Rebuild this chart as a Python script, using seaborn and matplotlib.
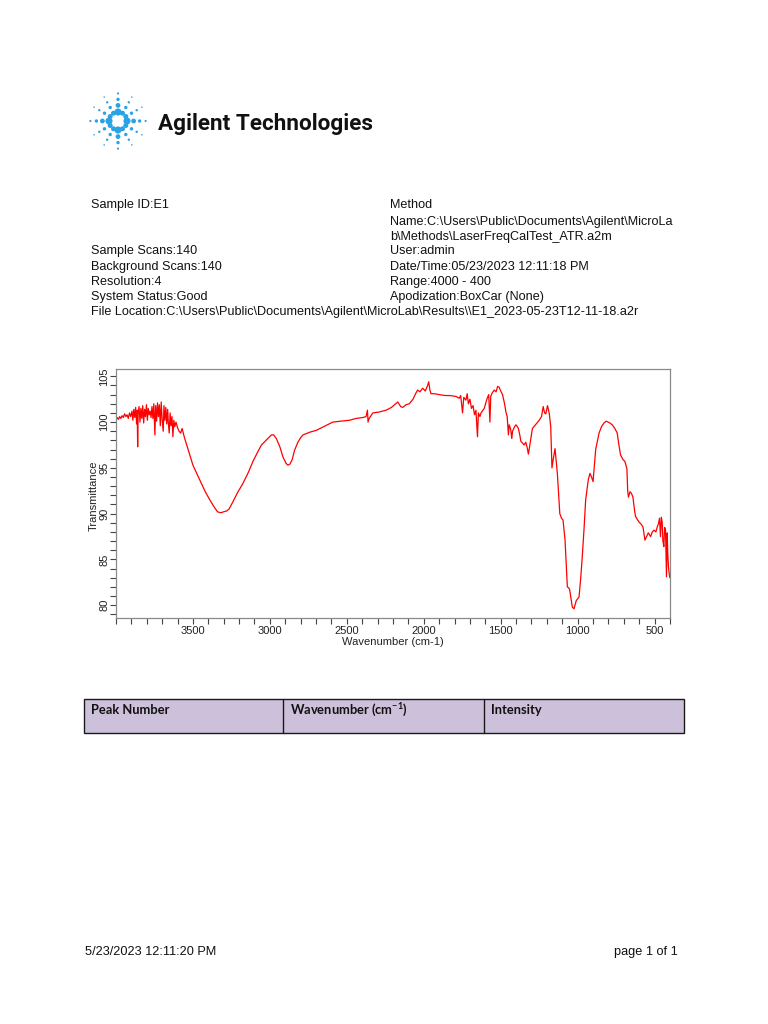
import numpy as np
import pandas as pd
import matplotlib
matplotlib.use("Agg")
import matplotlib.pyplot as plt
from matplotlib.ticker import MultipleLocator
from matplotlib.patches import Rectangle
import seaborn as sns

# ---------------- data ----------------
wavenumber = [
    4000, 3992, 3984, 3976, 3968, 3960, 3952, 3944, 3936, 3928, 3920, 3912, 3904, 3896, 3890, 3884,
    3878, 3872, 3866, 3862, 3859, 3856, 3850, 3844, 3838, 3832, 3826, 3820, 3814, 3808, 3802, 3796,
    3790, 3784, 3778, 3772, 3766, 3760, 3754, 3747, 3742, 3736, 3730, 3724, 3718, 3712, 3706, 3700,
    3693, 3688, 3682, 3676, 3670, 3664, 3660, 3654, 3648, 3642, 3636, 3630, 3624, 3618, 3610, 3600,
    3590, 3580, 3570, 3555, 3540, 3520, 3500, 3470, 3445, 3420, 3390, 3365, 3340, 3320, 3300, 3280,
    3265, 3240, 3210, 3175, 3140, 3110, 3080, 3055, 3020, 2990, 2975, 2958, 2935, 2915, 2895, 2883,
    2870, 2855, 2840, 2818, 2800, 2785, 2740, 2698, 2650, 2591, 2540, 2482, 2440, 2396, 2375, 2366,
    2362, 2355, 2331, 2290, 2245, 2210, 2190, 2169, 2150, 2137, 2115, 2094, 2070, 2050, 2040, 2025,
    2007, 1990, 1975, 1968, 1960, 1953, 1930, 1899, 1860, 1830, 1790, 1770, 1760, 1748, 1740, 1726,
    1718, 1710, 1700, 1690, 1680, 1670, 1661, 1651, 1645, 1635, 1628, 1615, 1607, 1590, 1578, 1570,
    1565, 1555, 1542, 1530, 1520, 1510, 1500, 1488, 1475, 1466, 1458, 1450, 1445, 1435, 1428, 1423,
    1410, 1401, 1392, 1385, 1375, 1369, 1358, 1348, 1337, 1328, 1320, 1310, 1294, 1270, 1250, 1235,
    1224, 1215, 1207, 1196, 1185, 1175, 1167, 1160, 1147, 1132, 1116, 1105, 1095, 1082, 1067, 1058,
    1052, 1035, 1024, 1009, 991, 980, 970, 958, 948, 931, 920, 910, 900, 890, 883, 861,
    845, 829, 815, 803, 790, 775, 758, 743, 732, 721, 705, 693, 680, 675, 670, 660,
    650, 641, 630, 624, 610, 602, 585, 575, 563, 552, 541, 530, 526, 515, 504, 492,
    482, 475, 468, 462, 456, 451, 446, 440, 435, 429, 423, 418, 414, 410, 405, 401,
]
transmittance = [
    100.2, 100.5, 100.3, 100.6, 100.4, 100.7, 100.5, 100.9, 100.6, 100.8, 100.4, 101.0, 100.6, 101.2, 100.2, 101.4,
    100.5, 101.6, 99.8, 101.3, 97.3, 101.0, 101.7, 100.0, 101.5, 100.4, 101.8, 99.9, 101.4, 100.6, 101.9, 100.2,
    101.5, 100.8, 101.2, 100.5, 101.7, 100.4, 102.0, 98.6, 101.8, 100.1, 102.1, 100.6, 101.9, 99.6, 102.2, 100.3,
    99.0, 101.8, 100.2, 101.6, 99.8, 101.4, 100.0, 98.8, 101.0, 99.6, 100.6, 98.4, 100.2, 99.5, 100.0, 99.4,
    99.0, 98.8, 99.3, 98.3, 97.5, 96.4, 95.3, 94.2, 93.3, 92.4, 91.5, 90.8, 90.2, 90.1, 90.2, 90.3,
    90.5, 91.3, 92.3, 93.3, 94.5, 95.7, 96.7, 97.5, 98.1, 98.6, 98.6, 98.2, 97.3, 96.2, 95.5, 95.3,
    95.4, 95.9, 96.9, 97.8, 98.3, 98.6, 98.9, 99.1, 99.5, 100.0, 100.1, 100.2, 100.4, 100.5, 100.6, 101.3,
    100.0, 100.4, 101.0, 101.1, 101.3, 101.6, 101.9, 102.2, 101.7, 101.6, 101.9, 102.0, 102.5, 103.2, 103.5, 103.3,
    103.7, 103.4, 104.0, 104.4, 103.5, 103.1, 103.1, 103.0, 102.9, 102.9, 102.8, 102.6, 102.9, 101.0, 102.7, 102.4,
    103.1, 102.0, 102.5, 101.5, 101.8, 100.8, 101.3, 98.4, 101.0, 100.6, 101.0, 101.3, 101.5, 102.5, 103.0, 100.0,
    102.8, 103.2, 103.5, 103.3, 103.9, 103.8, 103.4, 103.0, 102.0, 101.1, 100.6, 98.6, 99.7, 99.2, 98.2, 99.0,
    99.5, 99.7, 99.5, 99.3, 98.5, 97.9, 97.7, 97.5, 97.8, 97.2, 96.5, 97.6, 99.3, 99.8, 100.2, 100.6,
    101.7, 101.0, 100.9, 101.8, 101.0, 99.5, 95.0, 95.8, 97.1, 94.4, 90.0, 89.5, 89.3, 87.1, 82.0, 81.9,
    81.7, 79.8, 79.6, 80.5, 80.9, 83.0, 85.3, 88.5, 91.5, 93.7, 94.4, 94.0, 93.5, 95.5, 97.0, 98.8,
    99.5, 99.9, 100.1, 100.0, 99.9, 99.7, 99.3, 98.8, 97.5, 96.4, 95.9, 95.7, 94.9, 92.5, 91.8, 92.4,
    92.2, 91.8, 90.3, 89.7, 89.3, 89.1, 88.8, 88.5, 87.1, 87.5, 87.9, 87.6, 87.5, 88.0, 88.2, 88.0,
    88.6, 88.9, 89.5, 87.5, 89.6, 89.1, 87.0, 86.4, 88.5, 88.2, 83.1, 87.9, 85.5, 84.2, 83.4, 83.0,
]

x_ticks = [3500, 3000, 2500, 2000, 1500, 1000, 500]
y_ticks = [80, 85, 90, 95, 100, 105]

header_left = ["Sample ID:E1", "Sample Scans:140", "Background Scans:140",
               "Resolution:4", "System Status:Good"]
header_right = ["Method", "Name:C:\\Users\\Public\\Documents\\Agilent\\MicroLa",
                "b\\Methods\\LaserFreqCalTest_ATR.a2m", "User:admin",
                "Date/Time:05/23/2023 12:11:18 PM", "Range:4000 - 400",
                "Apodization:BoxCar (None)"]
file_location = "File Location:C:\\Users\\Public\\Documents\\Agilent\\MicroLab\\Results\\\\E1_2023-05-23T12-11-18.a2r"
table_headers = ["Peak Number", r"Wavenumber (cm$^{\mathregular{-1}}$)", "Intensity"]
footer_left = "5/23/2023 12:11:20 PM"
footer_right = "page 1 of 1"

# ---------------- styling ----------------
sns.set_style("white")
plt.rcParams["font.family"] = ["Liberation Sans", "DejaVu Sans"]
plt.rcParams["mathtext.fontset"] = "custom"
plt.rcParams["mathtext.rm"] = "Lato"

W, H = 768, 1024
fig = plt.figure(figsize=(W / 100, H / 100), dpi=100)
fig.patch.set_facecolor("white")


def fx(x):
    return x / W


def fy(y):
    return 1 - y / H


# ---------------- logo ----------------
lax = fig.add_axes([fx(88), fy(151), fx(60), 60 / H])
lax.set_xlim(-1, 1)
lax.set_ylim(-1, 1)
lax.set_aspect("equal")
lax.axis("off")
radii = [0.30, 0.52, 0.72, 0.92]
sizes = [26, 12, 6, 2.5]
for k in range(12):
    a = np.deg2rad(90 + 30 * k)
    for r, s in zip(radii, sizes):
        ss = s if k % 3 == 0 else s * 0.5
        lax.scatter([r * np.cos(a)], [r * np.sin(a)], s=ss, color="#2aa3e6",
                    edgecolor="none")
fig.text(fx(158), fy(124), "Agilent Technologies", fontsize=16.2, fontweight="bold",
         family=["Roboto", "Liberation Sans"], va="center", ha="left",
         color="#111111")

# ---------------- header text ----------------
hfs = 9.1
left_y = [205, 251, 267, 282, 297]
right_y = [205, 222, 237, 251, 267, 282, 297]
for t, y in zip(header_left, left_y):
    fig.text(fx(91), fy(y), t, fontsize=hfs, va="center", ha="left", color="#111111")
for t, y in zip(header_right, right_y):
    fig.text(fx(390), fy(y), t, fontsize=hfs, va="center", ha="left", color="#111111")
fig.text(fx(91), fy(312), file_location, fontsize=hfs, va="center", ha="left", color="#111111")

# ---------------- spectrum ----------------
ax = fig.add_axes([fx(115.5), fy(618), fx(670) - fx(115.5), (618 - 369) / H])
df = pd.DataFrame({"Wavenumber": wavenumber, "Transmittance": transmittance})
sns.lineplot(data=df, x="Wavenumber", y="Transmittance", ax=ax, color="#ff0000",
             linewidth=0.9, sort=False, estimator=None)
ax.set_xlim(4003, 400)
ax.set_ylim(78.6, 105.8)
ax.set_xticks(x_ticks)
ax.set_yticks(y_ticks)
ax.xaxis.set_minor_locator(MultipleLocator(100))
ax.yaxis.set_minor_locator(MultipleLocator(1))
ax.tick_params(axis="both", which="both", direction="out", length=4.3, width=0.8,
               color="#444444", labelsize=8, labelcolor="#222222", pad=1.5,
               bottom=True, left=True)
ax.tick_params(axis="y", pad=0)
for lab in ax.get_yticklabels():
    lab.set_rotation(90)
    lab.set_va("center")
for s in ax.spines.values():
    s.set_color("#8a8a8a")
    s.set_linewidth(0.9)
ax.set_xlabel("Wavenumber (cm-1)", fontsize=8, color="#222222", labelpad=1)
ax.set_ylabel("Transmittance", fontsize=8, color="#222222")
ax.yaxis.set_label_coords(-0.031, 0.49)

# ---------------- table header ----------------
tax = fig.add_axes([0, 0, 1, 1], facecolor="none")
tax.set_xlim(0, W)
tax.set_ylim(H, 0)
tax.axis("off")
col_x = [84, 283, 484, 684]
tax.add_patch(Rectangle((84, 699), 600, 34, facecolor="#ccc0da", edgecolor="#1a1a1a",
                        linewidth=1.0))
for cx in col_x[1:-1]:
    tax.plot([cx, cx], [699, 733], color="#1a1a1a", lw=1.0)
for t, cx in zip(table_headers, col_x[:-1]):
    tax.text(cx + 7, 710, t, fontsize=9.3, fontweight="bold", family=["Lato", "DejaVu Sans"],
             va="center", ha="left", color="#111111")

# ---------------- footer ----------------
fig.text(fx(85), fy(952), footer_left, fontsize=9.2, va="center", ha="left", color="#111111")
fig.text(fx(678), fy(952), footer_right, fontsize=9.2, va="center", ha="right", color="#111111")

fig.savefig("out.png", dpi=100)
